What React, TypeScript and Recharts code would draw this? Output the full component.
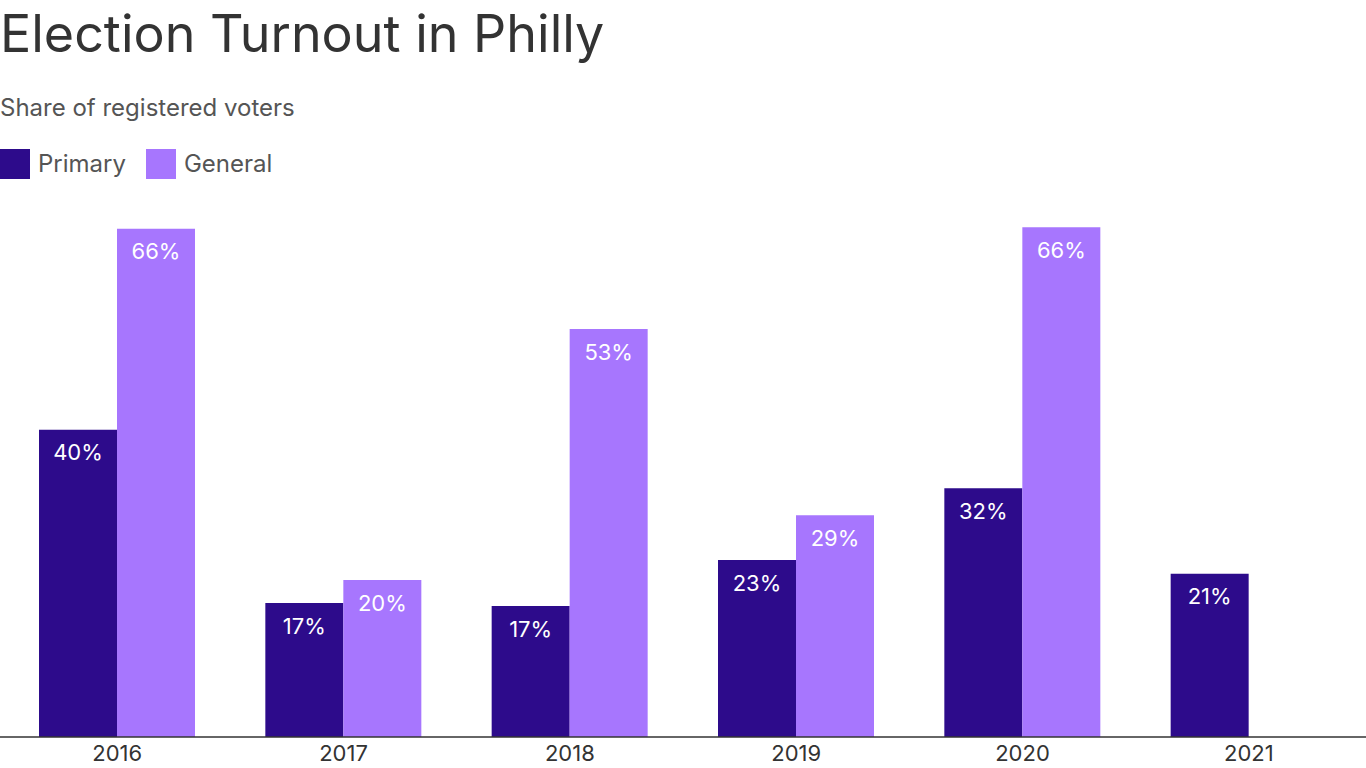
import { Bar, BarChart, LabelList, XAxis, YAxis } from "recharts";

const years = ["2016", "2017", "2018", "2019", "2020", "2021"];
const primary = [39.9, 17.4, 17.0, 23.0, 32.3, 21.2];
const general: (number | null)[] = [66.0, 20.4, 53.0, 28.8, 66.2, null];

const primaryColor = "#2d0b8b";
const generalColor = "#a776fe";
const font = "Inter, 'Noto Sans', sans-serif";

const data = years.map((year, i) => ({ year, primary: primary[i], general: general[i] }));

const pct = (v: unknown) => (v == null ? "" : `${Math.round(Number(v))}%`);

export default function App() {
  return (
    <div style={{ position: "absolute", left: 0, top: 0, width: 1366, height: 768, background: "#fff", fontFamily: font, overflow: "hidden" }}>
      <div style={{ position: "absolute", left: 0, top: 4, fontSize: 52, color: "#333", lineHeight: "60px" }}>
        Election Turnout in Philly
      </div>
      <div style={{ position: "absolute", left: 0, top: 93, fontSize: 24, color: "#555", lineHeight: "30px" }}>
        Share of registered voters
      </div>
      <div style={{ position: "absolute", left: 0, top: 149, display: "flex", alignItems: "center", fontSize: 24, color: "#555", lineHeight: "30px" }}>
        <span style={{ width: 30, height: 30, background: primaryColor, display: "inline-block" }} />
        <span style={{ marginLeft: 8 }}>Primary</span>
        <span style={{ width: 30, height: 30, background: generalColor, display: "inline-block", marginLeft: 20 }} />
        <span style={{ marginLeft: 8 }}>General</span>
      </div>
      <div style={{ position: "absolute", left: 0, top: 0 }}>
        <BarChart width={1366} height={768} data={data} margin={{ top: 198, right: 0, left: 0, bottom: 1 }} barGap={0} barCategoryGap={35}>
          <XAxis
            dataKey="year"
            height={30}
            padding={{ left: 4, right: 4 }}
            tickLine={false}
            axisLine={{ stroke: "#333", strokeWidth: 1.5 }}
            tick={{ fill: "#333", fontSize: 22, fontFamily: font }}
            dy={0}
          />
          <YAxis hide domain={[0, 70]} />
          <Bar dataKey="primary" fill={primaryColor} isAnimationActive={false}>
            <LabelList dataKey="primary" position="insideTop" offset={15} formatter={pct} fill="#fff" fontSize={22} fontFamily={font} />
          </Bar>
          <Bar dataKey="general" fill={generalColor} isAnimationActive={false}>
            <LabelList dataKey="general" position="insideTop" offset={15} formatter={pct} fill="#fff" fontSize={22} fontFamily={font} />
          </Bar>
        </BarChart>
      </div>
    </div>
  );
}
